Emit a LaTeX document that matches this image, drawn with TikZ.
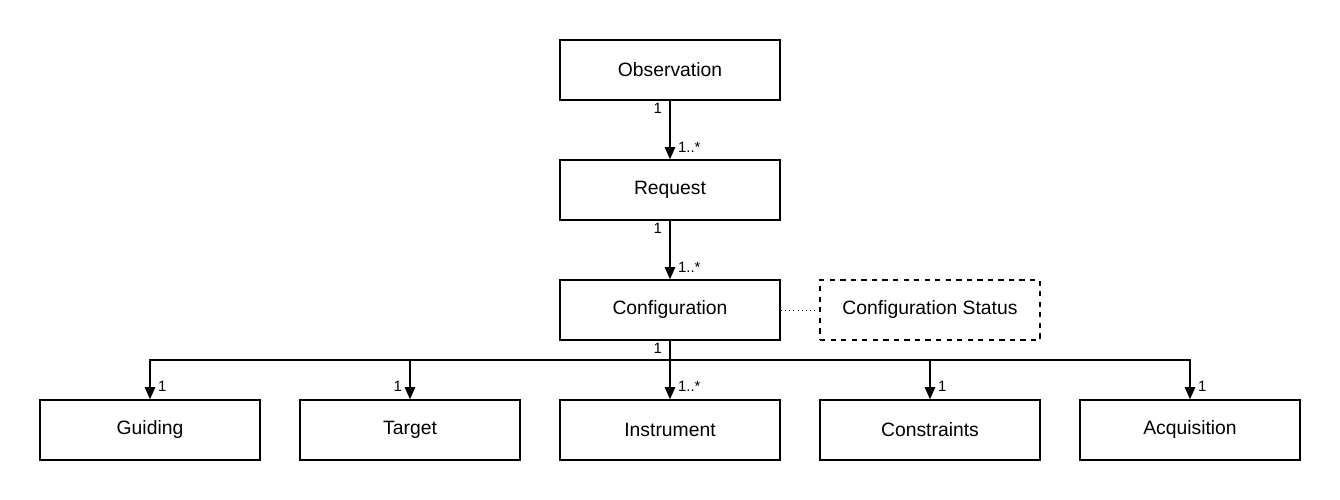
\documentclass[tikz,border=0pt]{standalone}
\usepackage{fontspec}
\setmainfont{Liberation Sans}
\usepackage{xcolor}
\usepackage{tikz}
\usetikzlibrary{positioning,arrows.meta}

\tikzset{
  box/.style={draw, thick, minimum width=4.4cm, minimum height=1.2cm, font=\fontsize{11}{13}\selectfont},
  assoc/.style={thick, -{Triangle[length=7pt,width=6pt]}},
  mult/.style={font=\fontsize{8.5}{10}\selectfont, inner sep=1pt}
}

\begin{document}
\begin{tikzpicture}[x=0.02cm, y=-0.02cm]
\useasboundingbox (0,0) rectangle (1340,500);

\node[box] (observation) at (670,70) {Observation};
\node[box] (request) at (670,190) {Request};
\node[box] (configuration) at (670,310) {Configuration};
\node[box, dashed] (status) at (930,310) {Configuration Status};

\node[box] (guiding) at (150,430) {Guiding};
\node[box] (target) at (410,430) {Target};
\node[box] (instrument) at (670,430) {Instrument};
\node[box] (constraints) at (930,430) {Constraints};
\node[box] (acquisition) at (1190,430) {Acquisition};

\draw[assoc] (observation) -- (request);
\node[mult, anchor=east] at (664,108) {1};
\node[mult, anchor=west] at (676,147) {1..*};

\draw[assoc] (request) -- (configuration);
\node[mult, anchor=east] at (664,228) {1};
\node[mult, anchor=west] at (676,267) {1..*};

\draw[dotted] (configuration) -- (status);

% bus to the bottom row
\coordinate (bus) at (670,360);
\draw[thick] (configuration.south) -- (bus);
\node[mult, anchor=east] at (664,348) {1};
\foreach \n in {guiding,target,instrument,constraints,acquisition}
  \draw[assoc] (bus) -| (\n.north);
\node[mult, anchor=west] at (156,386) {1};
\node[mult, anchor=east] at (404,386) {1};
\node[mult, anchor=west] at (676,386) {1..*};
\node[mult, anchor=west] at (936,386) {1};
\node[mult, anchor=west] at (1196,386) {1};

\end{tikzpicture}
\end{document}
